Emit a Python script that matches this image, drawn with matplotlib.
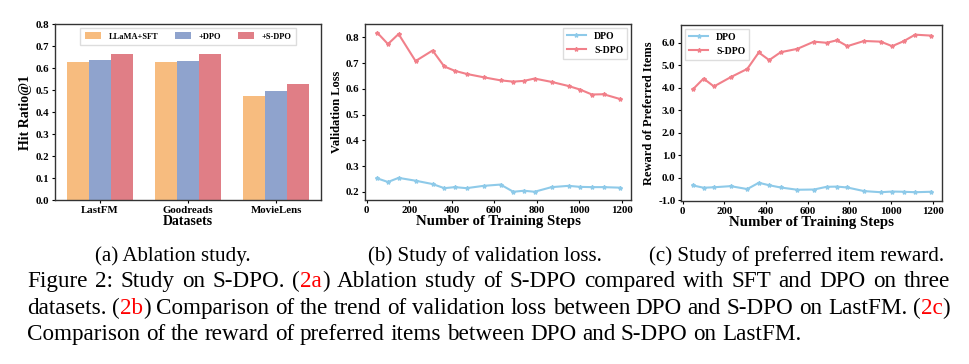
import numpy as np
import matplotlib
matplotlib.use('Agg')
import matplotlib.pyplot as plt

plt.rcParams['font.family'] = ['Liberation Serif', 'DejaVu Serif']
plt.rcParams['axes.unicode_minus'] = False

# Data
datasets = ['LastFM', 'Goodreads', 'MovieLens']
methods = ['LLaMA+SFT', '+DPO', '+S-DPO']
hit_sft = [0.626, 0.629, 0.474]
hit_dpo = [0.638, 0.633, 0.494]
hit_sdpo = [0.662, 0.665, 0.526]

steps = [50, 100, 150, 230, 310, 365, 415, 470, 550, 630, 690, 740, 790, 870, 950, 1005, 1060, 1115, 1190]
loss_dpo = [0.252, 0.238, 0.254, 0.243, 0.230, 0.214, 0.218, 0.214, 0.223, 0.228,
            0.200, 0.204, 0.200, 0.218, 0.223, 0.219, 0.218, 0.218, 0.216]
loss_sdpo = [0.818, 0.774, 0.813, 0.708, 0.749, 0.687, 0.670, 0.658, 0.645, 0.633,
             0.628, 0.631, 0.640, 0.627, 0.611, 0.597, 0.578, 0.579, 0.561]
reward_dpo = [-0.35, -0.45, -0.43, -0.38, -0.51, -0.23, -0.34, -0.44, -0.54, -0.53,
              -0.41, -0.40, -0.44, -0.60, -0.65, -0.62, -0.63, -0.65, -0.63]
reward_sdpo = [3.93, 4.40, 4.05, 4.46, 4.83, 5.56, 5.22, 5.57, 5.72, 6.04,
               5.99, 6.10, 5.84, 6.07, 6.04, 5.84, 6.06, 6.35, 6.31]

bar_colors = ['#F7BC7F', '#8FA3CD', '#E07E86']
c_dpo = '#8ECAE9'
c_sdpo = '#F1808A'

W, H = 969, 364
fig = plt.figure(figsize=(W / 100, H / 100), dpi=100)


def px_axes(l, t, r, b):
    return fig.add_axes([l / W, 1 - b / H, (r - l) / W, (b - t) / H])


def style_axes(ax):
    for s in ax.spines.values():
        s.set_color('#333333')
        s.set_linewidth(1.0)
    ax.tick_params(length=2.5, width=0.8, pad=1.5, labelsize=7.8)
    for lab in ax.get_xticklabels() + ax.get_yticklabels():
        lab.set_fontweight('bold')


# (a) bars
ax1 = px_axes(55, 24, 321, 200)
x = np.arange(len(datasets))
w = 0.25
for i, (vals, lab) in enumerate(zip([hit_sft, hit_dpo, hit_sdpo], methods)):
    ax1.bar(x + (i - 1) * w, vals, w, color=bar_colors[i], label=lab)
ax1.set_xlim(-0.51, 2.51)
ax1.set_ylim(0, 0.8)
ax1.set_xticks(x)
ax1.set_xticklabels(datasets)
ax1.set_yticks(np.arange(0, 0.81, 0.1))
ax1.set_yticklabels(['%.1f' % v for v in np.arange(0, 0.81, 0.1)])
ax1.set_ylabel('Hit Ratio@1', fontsize=10, fontweight='bold', labelpad=3)
ax1.set_xlabel('Datasets', fontsize=10, fontweight='bold', labelpad=0)
style_axes(ax1)
ax1.legend(loc='upper center', ncol=3, prop={'size': 6, 'weight': 'bold'},
           frameon=True, fancybox=False, edgecolor='#dddddd', framealpha=1,
           handlelength=2.0, handleheight=0.9, columnspacing=2.0, handletextpad=0.85,
           borderpad=0.5, borderaxespad=0.3, bbox_to_anchor=(0.5, 0.99))

# (b) validation loss
ax2 = px_axes(365, 24, 631, 200)
ax2.plot(steps, loss_dpo, color=c_dpo, lw=1.5, marker='*', ms=3, label='DPO')
ax2.plot(steps, loss_sdpo, color=c_sdpo, lw=1.5, marker='*', ms=3, label='S-DPO')
ax2.set_xlim(-8, 1244)
ax2.set_ylim(0.168, 0.852)
ax2.set_xticks(range(0, 1201, 200))
ax2.set_yticks(np.arange(0.2, 0.81, 0.1))
ax2.set_yticklabels(['%.1f' % v for v in np.arange(0.2, 0.81, 0.1)])
ax2.set_ylabel('Validation Loss', fontsize=9, fontweight='bold', labelpad=2)
ax2.set_xlabel('Number of Training Steps', fontsize=10.7, fontweight='bold', labelpad=0)
style_axes(ax2)
ax2.legend(loc='upper right', prop={'size': 7, 'weight': 'bold'}, fancybox=False,
           edgecolor='#dddddd', framealpha=1, handlelength=2.0, borderaxespad=0.4)

# (c) reward
ax3 = px_axes(681, 25, 942, 201)
ax3.plot(steps, reward_dpo, color=c_dpo, lw=1.5, marker='*', ms=3, label='DPO')
ax3.plot(steps, reward_sdpo, color=c_sdpo, lw=1.5, marker='*', ms=3, label='S-DPO')
ax3.set_xlim(-8, 1244)
ax3.set_ylim(-1.04, 6.78)
ax3.set_xticks(range(0, 1201, 200))
ax3.set_yticks(np.arange(-1, 6.1, 1))
ax3.set_yticklabels(['%.1f' % v for v in np.arange(-1, 6.1, 1)])
ax3.set_ylabel('Reward of Preferred Items', fontsize=9, fontweight='bold', labelpad=2)
ax3.set_xlabel('Number of Training Steps', fontsize=10.7, fontweight='bold', labelpad=0)
style_axes(ax3)
ax3.legend(loc='upper left', prop={'size': 7, 'weight': 'bold'}, fancybox=False,
           edgecolor='#dddddd', framealpha=1, handlelength=2.0, borderaxespad=0.4)

# sub captions
for cx, txt in [(173, '(a) Ablation study.'), (485, '(b) Study of validation loss.'),
                (797, '(c) Study of preferred item reward.')]:
    fig.text(cx / W, 1 - 261 / H, txt, ha='center', va='baseline', fontsize=15.1)

# main caption with red references, first two lines justified
cap_size = 16.7
lines = [
    [('Figure 2: Study on S-DPO. (', 'k'), ('2a', 'red'),
     (') Ablation study of S-DPO compared with SFT and DPO on three', 'k')],
    [('datasets. (', 'k'), ('2b', 'red'),
     (') Comparison of the trend of validation loss between DPO and S-DPO on LastFM. (', 'k'),
     ('2c', 'red'), (')', 'k')],
    [('Comparison of the reward of preferred items between DPO and S-DPO on LastFM.', 'k')],
]
renderer = fig.canvas.get_renderer()


def text_width(s):
    t = fig.text(0, 0, s, fontsize=cap_size)
    wd = t.get_window_extent(renderer).width
    t.remove()
    return wd


space_w = text_width('a a') - text_width('aa')
x0, x1 = 27, 950
for k, (row, y) in enumerate(zip(lines, [287, 314, 340])):
    # split into (word piece, colour, space before)
    pieces = []
    gap = False
    for txt, col in row:
        parts = txt.split(' ')
        for j, p in enumerate(parts):
            if j > 0:
                gap = True
            if p:
                pieces.append((p, col, gap))
                gap = False
    widths = [text_width(p) for p, _, _ in pieces]
    n_gaps = sum(1 for _, _, g in pieces if g)
    sw = space_w
    if k < 2:
        sw = (x1 - x0 - sum(widths)) / n_gaps
    xpos = x0
    for (p, col, g), wd in zip(pieces, widths):
        if g:
            xpos += sw
        fig.text(xpos / W, 1 - y / H, p, ha='left', va='baseline',
                 fontsize=cap_size, color=col)
        xpos += wd

fig.savefig('out.png', dpi=100)
